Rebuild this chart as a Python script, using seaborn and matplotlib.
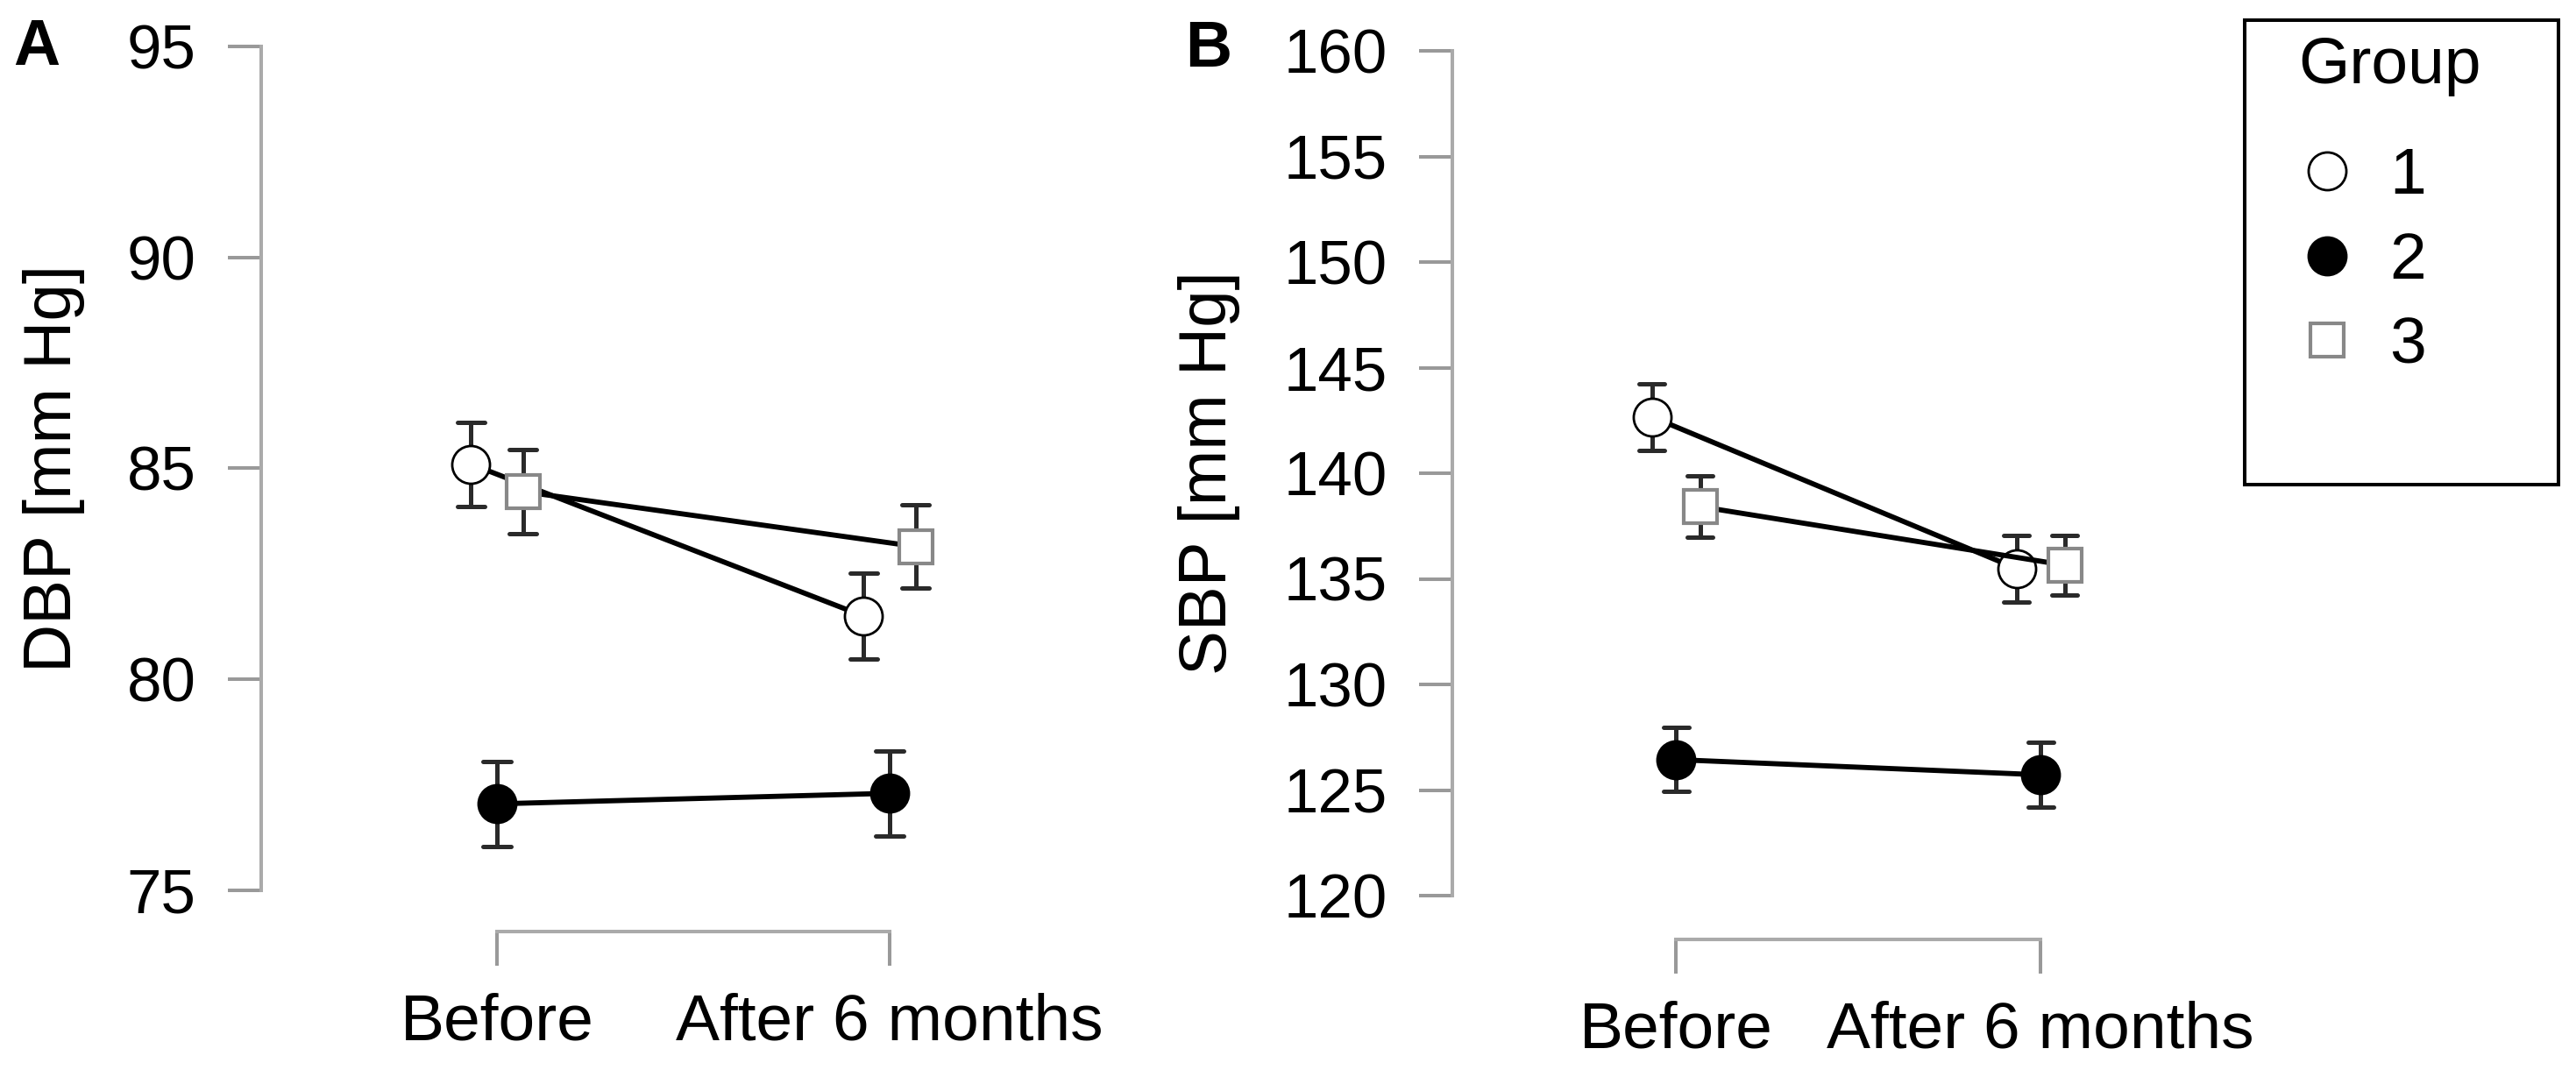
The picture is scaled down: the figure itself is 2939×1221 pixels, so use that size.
import matplotlib.pyplot as plt
import pandas as pd
import seaborn as sns
from matplotlib.lines import Line2D
from matplotlib.patches import Rectangle

PHASES = ["Before", "After 6 months"]
GROUPS = ["1", "2", "3"]

# panel A: diastolic blood pressure, mean and error half-width per group
DBP_MEAN_1 = [85.1, 81.5]
DBP_MEAN_2 = [77.05, 77.3]
DBP_MEAN_3 = [84.45, 83.15]
DBP_ERR_1 = [1.0, 1.02]
DBP_ERR_2 = [1.01, 1.01]
DBP_ERR_3 = [1.0, 0.99]
DBP_TICKS = [75, 80, 85, 90, 95]

# panel B: systolic blood pressure
SBP_MEAN_1 = [142.67, 135.49]
SBP_MEAN_2 = [126.44, 125.72]
SBP_MEAN_3 = [138.42, 135.65]
SBP_ERR_1 = [1.58, 1.58]
SBP_ERR_2 = [1.51, 1.53]
SBP_ERR_3 = [1.45, 1.42]
SBP_TICKS = [120, 125, 130, 135, 140, 145, 150, 155, 160]

W, H, DPI = 2939, 1221, 100
SPINE = "#aaaaaa"
TICK = "#999999"
ERR = "#2a2a2a"

FACES = ["white", "black", "white"]
EDGES = ["black", "black", "#888888"]
EDGE_W = [2.0, 2.0, 3.0]
SIZES = [31, 31, 28]


def long_table(means, errs) -> pd.DataFrame:
    """Two rows per cell (mean -/+ error) so that min..max gives the bar."""
    rows = []
    for group, m_list, e_list in zip(GROUPS, means, errs):
        for phase, m, e in zip(PHASES, m_list, e_list):
            rows.append({"Phase": phase, "Group": group, "Value": m - e})
            rows.append({"Phase": phase, "Group": group, "Value": m + e})
    return pd.DataFrame(rows)


def px_axes(fig, left, right, top, bottom):
    return fig.add_axes([left / W, 1 - bottom / H, (right - left) / W, (bottom - top) / H])


def draw_panel(ax, df, ticks, ylabel, xlim, offset_pt, label_x):
    sns.pointplot(
        data=df, x="Phase", y="Value", hue="Group",
        order=PHASES, hue_order=GROUPS,
        estimator="mean", errorbar=("pi", 100),
        palette=["black"] * 3, markers=["o", "o", "s"], linestyles="-",
        dodge=0.132, capsize=0.07,
        err_kws={"color": ERR, "linewidth": 3.6, "zorder": 1.5},
        linewidth=4.2, markersize=31, markeredgewidth=2.0,
        legend=False, ax=ax,
    )
    point_lines = [ln for ln in ax.lines if ln.get_marker() not in ("None", None, "")]
    for ln, fc, ec, mew, ms in zip(point_lines, FACES, EDGES, EDGE_W, SIZES):
        ln.set_markerfacecolor(fc)
        ln.set_markeredgecolor(ec)
        ln.set_markeredgewidth(mew)
        ln.set_markersize(ms)
        ln.set_color("black")

    ax.set_xlim(*xlim)
    ax.set_ylim(ticks[0], ticks[-1])
    ax.set_yticks(ticks)
    ax.set_xlabel("")
    ax.set_ylabel(ylabel, fontsize=55, color="black")
    ax.yaxis.set_label_coords(label_x, 0.5)

    sns.despine(ax=ax)
    ax.spines["left"].set_bounds(ticks[0], ticks[-1])
    ax.spines["bottom"].set_bounds(0, 1)
    ax.spines["bottom"].set_position(("outward", offset_pt))
    for side in ("left", "bottom"):
        ax.spines[side].set_color(SPINE)
        ax.spines[side].set_linewidth(2.9)
    ax.tick_params(axis="y", direction="out", length=27.5, width=2.9,
                   color=TICK, pad=26, labelsize=51, labelcolor="black")
    ax.tick_params(axis="x", direction="out", length=28, width=2.9,
                   color=TICK, pad=22, labelsize=54, labelcolor="black")


def main() -> None:
    sns.set_style("ticks")
    plt.rcParams["font.family"] = ["Liberation Sans", "DejaVu Sans"]
    plt.rcParams["text.color"] = "black"

    fig = plt.figure(figsize=(W / DPI, H / DPI), dpi=DPI)

    ax_a = px_axes(fig, 298, 1250, 53, 1016)
    dbp = long_table([DBP_MEAN_1, DBP_MEAN_2, DBP_MEAN_3], [DBP_ERR_1, DBP_ERR_2, DBP_ERR_3])
    draw_panel(ax_a, dbp, DBP_TICKS, "DBP [mm Hg]", (-0.6004, 1.5246), 33.8, -0.211)

    ax_b = px_axes(fig, 1657, 2500, 58, 1022)
    sbp = long_table([SBP_MEAN_1, SBP_MEAN_2, SBP_MEAN_3], [SBP_ERR_1, SBP_ERR_2, SBP_ERR_3])
    draw_panel(ax_b, sbp, SBP_TICKS, "SBP [mm Hg]", (-0.613, 1.413), 36.0, -0.287)

    fig.text(15 / W, 1 - 20 / H, "A", fontsize=53, fontweight="bold", va="top", ha="left")
    fig.text(1352 / W, 1 - 22 / H, "B", fontsize=53, fontweight="bold", va="top", ha="left")

    # legend box with title
    fig.add_artist(Rectangle((2561 / W, 1 - 553 / H), (2919 - 2561) / W, (553 - 23) / H,
                             transform=fig.transFigure, fill=False, lw=2.9, ec="black"))
    fig.text(2726 / W, 1 - 95 / H, "Group", ha="center", va="baseline", fontsize=54)
    handles = [
        Line2D([], [], ls="none", marker=m, ms=ms, mfc=fc, mec=ec, mew=mew)
        for m, ms, fc, ec, mew in zip(["o", "o", "s"], SIZES, FACES, EDGES, EDGE_W)
    ]
    fig.legend(handles, GROUPS, loc="upper left", bbox_to_anchor=(2617 / W, 1 - 167 / H),
               frameon=False, fontsize=54, handlelength=1.0, handletextpad=0.45,
               labelspacing=0.37, borderpad=0, borderaxespad=0)

    fig.savefig("out.png", dpi=DPI)


if __name__ == "__main__":
    main()
